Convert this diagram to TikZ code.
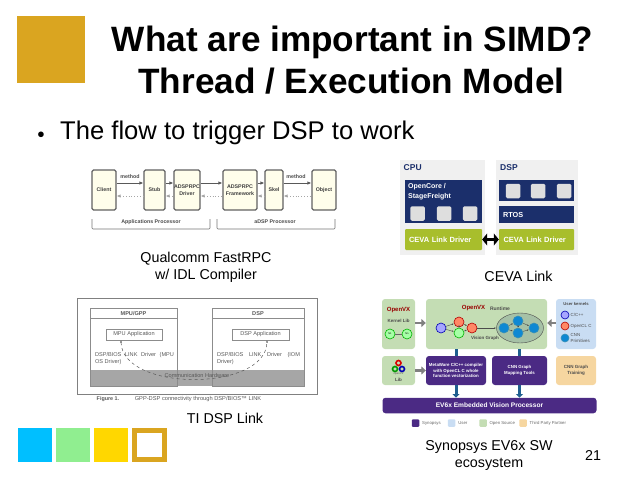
\documentclass[tikz,border=0pt]{standalone}
\usepackage{fontspec}
\setmainfont{Liberation Sans}
\usetikzlibrary{arrows.meta,calc,positioning,shapes.geometric}
\definecolor{gold}{HTML}{DAA520}
\definecolor{navy}{HTML}{1B2F6B}
\definecolor{ceva}{HTML}{A8BE2C}
\definecolor{vxgreen}{HTML}{C4DDB4}
\definecolor{vxpurple}{HTML}{4B2A84}
\definecolor{vxblue}{HTML}{1F5F8F}
\definecolor{vxorange}{HTML}{F6D6A0}
\definecolor{vxsky}{HTML}{C9DDF3}
\definecolor{tileblue}{HTML}{00BFFF}
\definecolor{tilegreen}{HTML}{90EE90}
\definecolor{tileyellow}{HTML}{FFD700}
\newcommand{\fsz}[1]{\fontsize{#1}{\dimexpr#1pt*6/5\relax}\selectfont}
\tikzset{
    captiontext/.style={font=\fsz{14.3}, align=center, text=black, inner sep=0pt},
    titletext/.style={font=\bfseries\fsz{35.2}, text=black, inner sep=0pt, anchor=base},
    rpcbox/.style={draw=black!62, fill=yellow!8, line width=1.2pt, rounded corners=1.5pt, inner sep=0pt, minimum height=40pt, font=\bfseries\fsz{5.3}, align=center, text=black!75},
    rpcarrow/.style={-{Latex[length=4pt,width=3.5pt]}, black!65, line width=0.8pt},
    rpcback/.style={{Latex[length=4pt,width=3.5pt]}-, black!35, dotted, line width=0.8pt},
    rpctext/.style={font=\bfseries\fsz{5.3}, text=black!70, inner sep=0pt},
    panel/.style={fill=black!6, inner sep=0pt},
    navybox/.style={fill=navy, inner sep=0pt},
    cevabox/.style={fill=ceva, inner sep=0pt, rounded corners=1pt, minimum width=77pt, minimum height=21pt, text=white, font=\bfseries\fsz{7.5}},
    chip/.style={fill=black!13, rounded corners=1.5pt, inner sep=0pt, minimum size=14.5pt},
    tiline/.style={draw=black!45, line width=0.5pt},
    titext/.style={font=\fsz{5.6}, text=black!65, inner sep=0pt},
    vxbox/.style={fill=#1, rounded corners=3pt, inner sep=0pt, align=center},
    vxtext/.style={font=\bfseries\fsz{4.4}, text=white, align=center, inner sep=0pt},
    vxdark/.style={font=\bfseries\fsz{4.5}, text=black!70, align=center, inner sep=0pt},
    vxnode/.style={circle, draw=#1!70!black, fill=#1!35, line width=0.6pt, minimum size=10pt, inner sep=0pt},
    cvring/.style={circle, draw=#1, line width=1.6pt, minimum size=5pt, inner sep=0pt},
    grayarrow/.style={-{Triangle[length=4.5pt,width=8pt]}, black!50, line width=2.4pt},
    busarrow/.style={-{Triangle[length=3.5pt,width=7pt]}, vxblue, line width=3pt},
    tilecolor/.style={fill=#1, inner sep=0pt, minimum size=34pt},
    legendmark/.style={fill=#1, rounded corners=1pt, inner sep=0pt, minimum size=7.5pt},
}
\begin{document}
\begin{tikzpicture}[x=1pt,y=-1pt]
    \useasboundingbox (0,0) rectangle (638,479);

    % Title and bullet
    \node[tilecolor=gold, minimum width=68pt, minimum height=67pt] (logo) at (51,49.5) {};
    \node[titletext] (title1) at (352.5,51) {What are important in SIMD?};
    \node[titletext] (title2) at (351.5,93) {Thread / Execution Model};
    \node[captiontext, font=\fsz{13}] (dot) at (41,135.5) {●};
    \node[captiontext, font=\fsz{25.6}, anchor=base west] (flow) at (60,139) {The flow to trigger DSP to work};

    % Qualcomm FastRPC
    \foreach \name/\xc/\boxw/\txt in {client/104/24/Client, stub/154.5/21/Stub, driver/187/26/{ADSPRPC\\Driver},
        framework/240/34/{ADSPRPC\\Framework}, skel/274/18/Skel, object/324/24/Object} {
        \node[rpcbox, minimum width=\boxw pt] (\name) at (\xc,190) {\txt};
    }
    \foreach \src/\dst in {client/stub, stub/driver, driver/framework, framework/skel, skel/object} {
        \draw[rpcarrow] ([yshift=7pt]\src.east) -- ([yshift=7pt]\dst.west);
        \draw[rpcback] ([yshift=-6pt]\src.east) -- ([yshift=-6pt]\dst.west);
    }
    \node[rpctext] (method1) at (130,177) {method};
    \node[rpctext] (method2) at (296,177) {method};
    \draw[black!55, line width=0.7pt, rounded corners=1pt] (92,219) -- (92,229) -- (210,229) -- (210,219);
    \draw[black!55, line width=0.7pt, rounded corners=1pt] (217,219) -- (217,229) -- (335,229) -- (335,219);
    \node[rpctext] (appproc) at (151,222) {Applications Processor};
    \node[rpctext] (adsp) at (275,222) {aDSP Processor};
    \node[captiontext] (fastrpc) at (206,267) {Qualcomm FastRPC\\w/ IDL Compiler};

    % CEVA Link
    \node[panel, minimum width=85pt, minimum height=95pt] (cpu) at (442.5,207.5) {};
    \node[panel, minimum width=82pt, minimum height=95pt] (dsp) at (537,207.5) {};
    \node[font=\bfseries\fsz{8.5}, text=navy, inner sep=0pt, right] (cpulabel) at (403.5,168) {CPU};
    \node[font=\bfseries\fsz{8.5}, text=navy, inner sep=0pt, right] (dsplabel) at (500,168) {DSP};
    \node[navybox, minimum width=77pt, minimum height=43pt] (opencore) at (443.5,201.5) {};
    \node[font=\bfseries\fsz{7}, text=white, align=left, inner sep=0pt, right] (opencoretext) at (408,192)
        {OpenCore /\\[2pt]StageFreight};
    \node[navybox, minimum width=75pt, minimum height=21pt] (dsptop) at (536.5,190.5) {};
    \node[navybox, minimum width=75pt, minimum height=17pt, font=\bfseries\fsz{7.3}, text=white, text width=67pt] (rtos) at (536.5,214.5) {RTOS};
    \foreach \idx/\xc in {1/417.5,2/444,3/470} {
        \node[chip] (chipa\idx) at (\xc,213.5) {};
    }
    \foreach \idx/\xc in {1/513,2/538,3/564} {
        \node[chip] (chipb\idx) at (\xc,191) {};
    }
    \node[cevabox, text width=69pt] (cevaa) at (443.5,239.5) {CEVA Link Driver};
    \node[cevabox, minimum width=75pt, text width=66pt] (cevab) at (536.5,239.5) {CEVA Link Driver};
    \draw[{Triangle[length=5pt,width=12pt]}-{Triangle[length=5pt,width=12pt]}, black, line width=3pt] (cevaa.east) -- (cevab.west);
    \node[captiontext] (cevalabel) at (518.5,276) {CEVA Link};

    % TI DSP Link
    \node[draw=black!50, line width=0.8pt, minimum width=240pt, minimum height=96pt, inner sep=0pt] (frame) at (197,346) {};
    \node[fill=black!35, inner sep=0pt, minimum width=214pt, minimum height=16pt] (hw) at (197,378) {};
    \node[tiline, minimum width=87pt, minimum height=78pt, inner sep=0pt] (mpu) at (133.5,347) {};
    \node[tiline, minimum width=92pt, minimum height=78pt, inner sep=0pt] (dspti) at (258,347) {};
    \draw[tiline] (mpu.west |- 0,318) -- (mpu.east |- 0,318);
    \draw[tiline] (dspti.west |- 0,318) -- (dspti.east |- 0,318);
    \node[titext, font=\bfseries\fsz{5.6}] (mpuhead) at (133.5,313.5) {MPU/GPP};
    \node[titext, font=\bfseries\fsz{5.6}] (dsphead) at (258,313.5) {DSP};
    \node[tiline, fill=white, minimum width=56pt, minimum height=11pt, inner sep=0pt, font=\fsz{5.6}, text=black!65] (mpuapp) at (134,334.5) {MPU Application};
    \node[tiline, fill=white, minimum width=57pt, minimum height=11pt, inner sep=0pt, font=\fsz{5.6}, text=black!65] (dspapp) at (260.5,334.5) {DSP Application};
    \node[titext, text width=79pt, align=justify] (mpudrv) at (134.5,358.5) {DSP/BIOS LINK Driver (MPU\linebreak OS Driver)};
    \node[titext, text width=83pt, align=justify] (dspdrv) at (258.5,358.5) {DSP/BIOS LINK Driver (IOM\linebreak Driver)};
    \node[titext] (hwtext) at (197,375) {Communication Hardware};
    \coordinate (mpuend) at (121,340);
    \coordinate (dspend) at (267,340);
    \draw[{Latex[length=2.5pt]}-{Latex[length=2.5pt]}, black!65, dashed, line width=0.5pt] (mpuend) .. controls (122,392) and (266,392) .. (dspend);
    \node[titext, font=\bfseries\fsz{5.4}] (figa) at (108,399) {Figure 1.};
    \node[titext, font=\fsz{5.7}] (figb) at (198,399) {GPP-DSP connectivity through DSP/BIOS™ LINK};
    \node[captiontext] (tilabel) at (225,418) {TI DSP Link};

    % Synopsys EV6x
    \node[vxbox=vxgreen, minimum width=33pt, minimum height=50pt] (kernel) at (398.5,324) {};
    \node[vxbox=vxgreen, minimum width=121pt, minimum height=50pt] (runtime) at (486.5,324) {};
    \node[vxbox=vxsky, minimum width=40pt, minimum height=50pt] (user) at (576,324) {};
    \node[vxbox=vxgreen, minimum width=33pt, minimum height=29pt] (cvlib) at (398.5,370.5) {};
    \node[vxbox=vxpurple, minimum width=60pt, minimum height=29pt, vxtext] (metaware) at (456,370.5)
        {MetaWare C/C++ compiler\\with OpenCL C whole\\function vectorization};
    \node[vxbox=vxpurple, minimum width=55pt, minimum height=29pt, vxtext] (mapping) at (519.5,370.5) {CNN Graph\\Mapping Tools};
    \node[vxbox=vxorange, minimum width=40pt, minimum height=29pt, vxdark] (training) at (576,370.5) {CNN Graph\\Training};
    \node[vxbox=vxpurple, minimum width=214pt, minimum height=15.5pt, font=\bfseries\fsz{6.6}, text=white] (ev6x) at (489.5,405.5) {EV6x Embedded Vision Processor};
    \draw[grayarrow] (kernel.east |- 0,323) -- (runtime.west |- 0,323);
    \draw[grayarrow] (cvlib.east) -- (metaware.west);
    \draw[grayarrow] (user.west |- 0,323) -- (runtime.east |- 0,323);
    \draw[busarrow, -] (runtime.south -| metaware) -- (metaware.north);
    \draw[busarrow, -] (runtime.south -| mapping) -- (mapping.north);
    \draw[busarrow] (metaware.south) -- (metaware.south |- ev6x.north);
    \draw[busarrow] (mapping.south) -- (mapping.south |- ev6x.north);

    \node[font=\bfseries\fsz{6}, text=red!60!black, inner sep=0pt] (kernellogo) at (398.5,310) {OpenVX};
    \node[vxdark] (kerneltext) at (398.5,321) {Kernel Lib};
    \node[vxnode=green, font=\fsz{2.5}] (ka) at (390,334) {N1};
    \node[vxnode=green, font=\fsz{2.5}] (kb) at (407,334) {Nn};
    \draw[black!60, line width=0.4pt] (ka) -- (kb);

    \node[font=\bfseries\fsz{6}, text=red!60!black, inner sep=0pt] (runlogo) at (473.5,308) {OpenVX};
    \node[vxdark, font=\bfseries\fsz{5}] (runtext) at (500,309) {Runtime};
    \node[ellipse, draw=black!70, fill=green!30!black!35, minimum width=47pt, minimum height=30pt, inner sep=0pt] (graph) at (520,328) {};
    \node[vxdark] (graphtext) at (485,338.5) {Vision Graph};
    \node[vxnode=blue] (ni) at (441,328) {};
    \node[vxnode=red, fill=red!55!orange!60] (na) at (459,322) {};
    \node[vxnode=green] (nb) at (459,333) {};
    \node[vxnode=red, fill=red!55!orange!60] (nc) at (472,328) {};
    \foreach \src/\dst in {ni/na, ni/nb, na/nc, nb/nc, na/nb} {
        \draw[-{Latex[length=2pt]}, black!70, line width=0.4pt] (\src) -- (\dst);
    }
    \draw[-{Latex[length=2pt]}, black!70, line width=0.4pt] (nc) -- (graph.west);
    \node[vxnode=cyan, fill=cyan!70!blue] (ga) at (504,328) {};
    \node[vxnode=cyan, fill=cyan!70!blue] (gb) at (518,321) {};
    \node[vxnode=cyan, fill=cyan!70!blue] (gc) at (518,333) {};
    \node[vxnode=cyan, fill=cyan!70!blue] (gd) at (534,328) {};
    \foreach \src/\dst in {ga/gb, ga/gc, gb/gc, gb/gd, gc/gd} {
        \draw[-{Latex[length=2pt]}, black!70, line width=0.4pt] (\src) -- (\dst);
    }

    \node[vxdark, font=\bfseries\fsz{4.2}] (usertext) at (576,304) {User kernels};
    \node[vxnode=blue, minimum size=8pt] (ua) at (565,315) {};
    \node[vxnode=red, fill=red!55!orange!60, minimum size=8pt] (ub) at (565,326) {};
    \node[vxnode=cyan, fill=cyan!70!blue, minimum size=8pt] (uc) at (565,338) {};
    \node[vxdark, font=\fsz{4.4}, right] (uat) at (570.5,315) {C/C++};
    \node[vxdark, font=\fsz{4.4}, right] (ubt) at (570.5,326) {OpenCL C};
    \node[vxdark, font=\fsz{4.4}, right, align=left] (uct) at (570.5,338) {CNN\\Primitives};

    % OpenCV logo rings
    \node[cvring=red!85!black] (cvr) at (398.5,363) {};
    \node[cvring=green!60!black] (cvg) at (395,369) {};
    \node[cvring=blue!70!black] (cvb) at (402,369) {};
    \node[vxdark, font=\fsz{2.6}] (cvname) at (398.5,373.5) {OpenCV};
    \node[vxdark] (cvtext) at (398.5,380) {Lib};

    % Legend below the processor bar
    \foreach \mname/\xc/\col/\tname/\txt in {ma/415.5/vxpurple/ta/Synopsys, mb/451.7/vxsky/tb/User, mc/483/vxgreen/tc/Open Source, md/523/vxorange/td/Third Party Partner} {
        \node[legendmark=\col] (\mname) at (\xc,423) {};
        \node[font=\fsz{4.3}, text=black!60, inner sep=0pt, right=2.5pt of \mname] (\tname) {\txt};
    }
    \node[captiontext] (synlabel) at (489,455.5) {Synopsys EV6x SW\\ecosystem};
    \node[captiontext] (page) at (593,456) {21};

    % Corner tiles
    \node[tilecolor=tileblue] (tilea) at (35,445) {};
    \node[tilecolor=tilegreen] (tileb) at (73,445) {};
    \node[tilecolor=tileyellow] (tilec) at (111,445) {};
    \node[draw=gold, line width=5pt, inner sep=0pt, minimum size=29.5pt] (tiled) at (149.5,445) {};
\end{tikzpicture}
\end{document}
